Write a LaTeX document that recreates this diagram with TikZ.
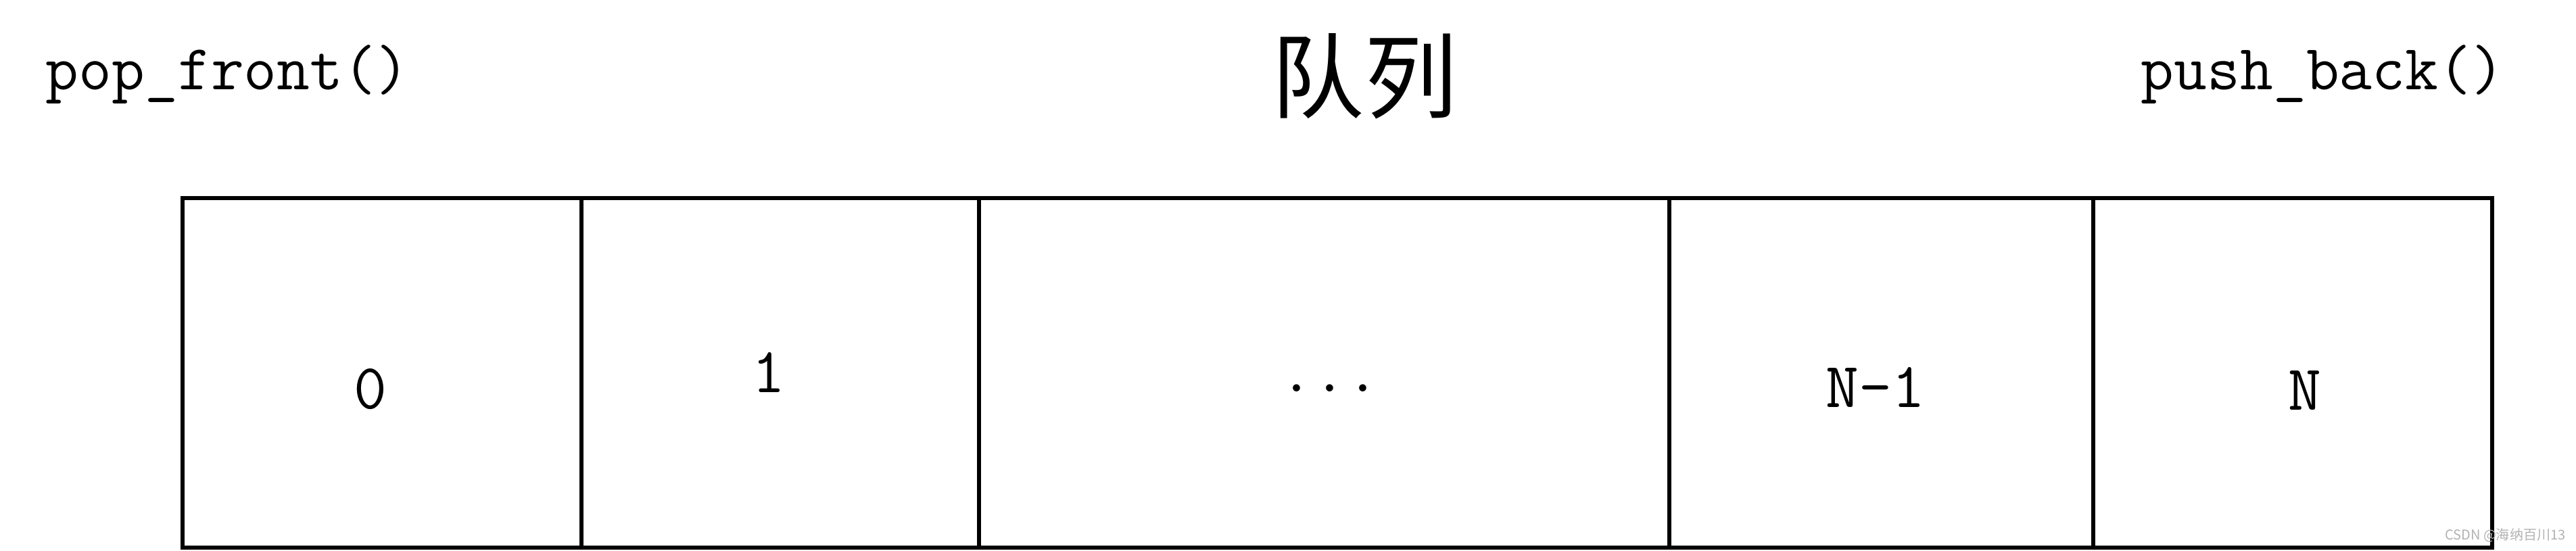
\documentclass[tikz,border=0pt]{standalone}
\usepackage{fontspec}
\usepackage{tikz}
\newfontfamily\cjkfont{Noto Sans CJK SC}

\tikzset{
	cellbox/.style={line width=1.6pt},
	celltext/.style={inner sep=0pt,anchor=base,font=\ttfamily\fontsize{27}{27}\selectfont},
	optext/.style={inner sep=0pt,font=\ttfamily\fontsize{27}{27}\selectfont},
}

\begin{document}
\begin{tikzpicture}
	\useasboundingbox (0,0) rectangle (38.10,8.15);

	\node (title) [font=\cjkfont\fontsize{39}{39}\selectfont] at (20.18,7.02) {队列};
	\node (popfront) [optext,anchor=base west] at (0.67,6.82) {pop\_front()};
	\node (pushback) [optext,anchor=base east] at (37.05,6.82) {push\_back()};

	\draw [cellbox] (2.70,0.05) rectangle ++(5.90,5.17) node (first) [celltext] at (5.48,2.10) {0};
	\draw [cellbox] (8.60,0.05) rectangle ++(5.88,5.17) node (second) [celltext] at (11.37,2.34) {1};
	\draw [cellbox] (14.48,0.05) rectangle ++(10.21,5.17) node (dots) [celltext] at (19.67,2.35) {...};
	\draw [cellbox] (24.69,0.05) rectangle ++(6.27,5.17) node (beforelast) [celltext] at (27.74,2.12) {N-1};
	\draw [cellbox] (30.96,0.05) rectangle ++(5.90,5.17) node (last) [celltext] at (34.09,2.08) {N};

	\node (mark) [anchor=south east,inner sep=0pt,text=black!30,font=\cjkfont\fontsize{5.7}{5.7}\selectfont] at (37.95,0.12) {CSDN @海纳百川13};
\end{tikzpicture}
\end{document}
